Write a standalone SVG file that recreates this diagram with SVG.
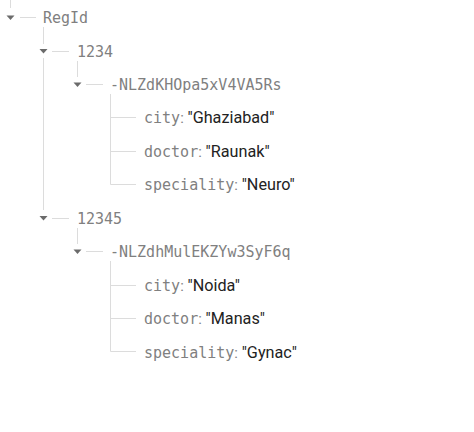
<svg xmlns="http://www.w3.org/2000/svg" width="474" height="432" viewBox="0 0 474 432">
<style>
.ln{stroke:#dcdcdc;stroke-width:1;fill:none}
.tri{fill:#6b6b6b}
.k{font-family:"DejaVu Sans Mono","Liberation Mono",monospace;font-size:15px;fill:#808080}
.c{font-family:Roboto,"Liberation Sans",sans-serif;font-size:15px;fill:#808080}
.v{font-family:Roboto,"Liberation Sans",sans-serif;font-size:16.2px;fill:#222}
</style>
<defs>
<path id="t" d="M-4,-2 L4,-2 L0,2.5 Z"/>
</defs>
<rect width="474" height="432" fill="#fff"/>
<g id="connectors">
<path class="ln" d="M10.5,0 V8"/>
<path class="ln" d="M20,17.5 H36"/>
<path class="ln" d="M43.5,27 V44 M43.5,58 V210"/>
<path class="ln" d="M52,51.5 H69"/>
<path class="ln" d="M77.5,61 V77"/>
<path class="ln" d="M86,84.5 H103"/>
<path class="ln" d="M110.5,94 V184.5 H136 M110.5,117.5 H136 M110.5,151.5 H136"/>
<path class="ln" d="M52,218.5 H69"/>
<path class="ln" d="M77.5,228 V244"/>
<path class="ln" d="M86,251.5 H103"/>
<path class="ln" d="M110.5,261 V351.5 H136 M110.5,285.5 H136 M110.5,318.5 H136"/>
</g>
<g id="node-regid">
<use href="#t" class="tri" x="10.5" y="17.5"/>
<text x="43" y="22.5" class="k">RegId</text>
</g>
<g id="node-1234">
<use href="#t" class="tri" x="43.5" y="51"/>
<text x="77" y="56.5" class="k">1234</text>
</g>
<g id="node-key1">
<use href="#t" class="tri" x="77.5" y="84.5"/>
<text x="110" y="90" class="k">-NLZdKHOpa5xV4VA5Rs</text>
</g>
<g id="node-city1">
<text x="144" y="123"><tspan class="k">city</tspan><tspan class="c">: </tspan><tspan class="v">"Ghaziabad"</tspan></text>
</g>
<g id="node-doctor1">
<text x="144" y="156.5"><tspan class="k">doctor</tspan><tspan class="c">: </tspan><tspan class="v">"Raunak"</tspan></text>
</g>
<g id="node-spec1">
<text x="144" y="190"><tspan class="k">speciality</tspan><tspan class="c">: </tspan><tspan class="v">"Neuro"</tspan></text>
</g>
<g id="node-12345">
<use href="#t" class="tri" x="43.5" y="218"/>
<text x="77" y="223.5" class="k">12345</text>
</g>
<g id="node-key2">
<use href="#t" class="tri" x="77.5" y="251.5"/>
<text x="110" y="257" class="k">-NLZdhMulEKZYw3SyF6q</text>
</g>
<g id="node-city2">
<text x="144" y="290.5"><tspan class="k">city</tspan><tspan class="c">: </tspan><tspan class="v">"Noida"</tspan></text>
</g>
<g id="node-doctor2">
<text x="144" y="324"><tspan class="k">doctor</tspan><tspan class="c">: </tspan><tspan class="v">"Manas"</tspan></text>
</g>
<g id="node-spec2">
<text x="144" y="357.5"><tspan class="k">speciality</tspan><tspan class="c">: </tspan><tspan class="v">"Gynac"</tspan></text>
</g>
</svg>
